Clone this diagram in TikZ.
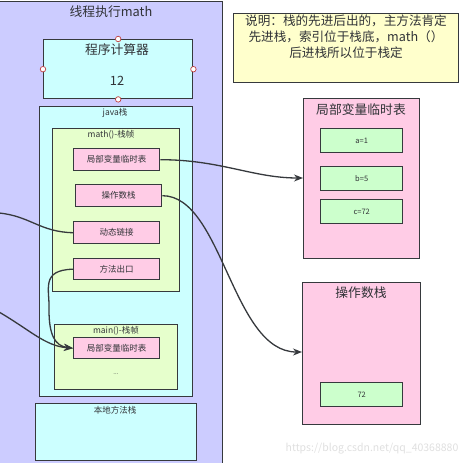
\documentclass[tikz,border=0pt]{standalone}
\usepackage{fontspec}
\setmainfont{Noto Sans CJK SC}
\usetikzlibrary{arrows.meta}
\definecolor{bord}{HTML}{36393D}
\definecolor{purp}{HTML}{CCCCFF}
\definecolor{cyanf}{HTML}{CCFFFF}
\definecolor{frameg}{HTML}{E6FFCC}
\definecolor{pinkf}{HTML}{FFCCE6}
\definecolor{greenf}{HTML}{CCFFCC}
\definecolor{yellowf}{HTML}{FFFFCC}
\tikzset{
  box/.style={draw=bord, line width=1.4pt, inner sep=0pt, anchor=north west},
  lbl/.style={inner sep=0pt, text=bord!90!black},
  small/.style={font=\fontsize{8.5}{10}\selectfont},
  big/.style={font=\fontsize{12.8}{15}\selectfont},
  conn/.style={draw=bord, line width=1.3pt},
  arr/.style={conn, -{Stealth[length=9pt,width=7pt]}},
  pt/.style={circle, draw=red!50!gray, fill=white, line width=0.7pt, inner sep=0pt, minimum size=5.5pt},
}
\newcommand{\rbox}[6]{\node[box, fill=#6, minimum width=#3pt-#1pt, minimum height=#4pt-#2pt] (#5) at (#1,#2) {};}
\begin{document}
\begin{tikzpicture}[x=1pt,y=-1pt]
\useasboundingbox (0,0) rectangle (474,463);
% outer thread box
\rbox{-5}{1}{222}{470}{thread}{purp}
\node[lbl, big] (ttitle) at (111,12) {线程执行math};
% program counter
\rbox{43}{39}{192}{98}{pc}{cyanf}
\node[lbl, big] (pctitle) at (117,50) {程序计算器};
\node[lbl, big] (pcval) at (117,81) {12};
\node[pt] (c1) at (pc.north) {};
\node[pt] (c2) at (pc.south) {};
\node[pt] (c3) at (pc.west) {};
\node[pt] (c4) at (pc.east) {};
% java stack
\rbox{39}{106}{192}{396}{jstack}{cyanf}
\node[lbl, small] (jtitle) at (115,113) {java栈};
% math frame
\rbox{52}{128}{179}{291}{mframe}{frameg}
\node[lbl, small] (mtitle) at (111,135) {math()-栈帧};
\rbox{73}{148}{159}{170}{lv1}{pinkf}
\node[lbl, small] at (lv1.center) {局部变量临时表};
\rbox{75}{184}{161}{206}{ops1}{pinkf}
\node[lbl, small] at (ops1.center) {操作数栈};
\rbox{73}{221}{159}{243}{dyn}{pinkf}
\node[lbl, small] at (dyn.center) {动态链接};
\rbox{73}{258}{159}{279}{ret}{pinkf}
\node[lbl, small] at (ret.center) {方法出口};
% main frame
\rbox{54}{324}{177}{389}{mainframe}{frameg}
\node[lbl, small] (maintitle) at (116,331) {main()-栈帧};
\rbox{73}{337}{159}{358}{lv2}{pinkf}
\node[lbl, small] at (lv2.center) {局部变量临时表};
\node[lbl, font=\fontsize{6}{7}\selectfont] (dots) at (116,374) {...};
% native stack
\rbox{35}{403}{196}{460}{native}{cyanf}
\node[lbl, small] (ntitle) at (115,410) {本地方法栈};
% note
\rbox{233}{13}{458}{82}{note}{yellowf}
\node[lbl, align=center, font=\fontsize{12.6}{16}\selectfont, anchor=north] (notetext) at (346,15) {说明：栈的先进后出的，主方法肯定\\先进栈，索引位于栈底，math（）\\后进栈所以位于栈定};
% local var table right
\rbox{303}{98}{419}{258}{lvt}{pinkf}
\node[lbl, big] (lvttitle) at (361,110) {局部变量临时表};
\rbox{320}{128}{402}{152}{a}{greenf}
\node[lbl, font=\fontsize{7.5}{9}\selectfont] at (a.center) {a=1};
\rbox{320}{166}{402}{190}{b}{greenf}
\node[lbl, font=\fontsize{7.5}{9}\selectfont] at (b.center) {b=5};
\rbox{320}{199}{402}{223}{c}{greenf}
\node[lbl, font=\fontsize{7.5}{9}\selectfont] at (c.center) {c=72};
% operand stack right
\rbox{302}{282}{420}{424}{ost}{pinkf}
\node[lbl, big] (osttitle) at (361,293) {操作数栈};
\rbox{320}{382}{402}{406}{v72}{greenf}
\node[lbl, font=\fontsize{7.5}{9}\selectfont] at (v72.center) {72};
% watermark
\node[lbl, text=gray!25, font=\fontsize{10.5}{12}\selectfont] (wm) at (372,449) {https://blog.csdn.net/qq\_40368880};
% connectors
\coordinate (in1) at (303,178);
\coordinate (in2) at (302,352);
\coordinate (l1) at (-1,213);
\coordinate (l2) at (-1,312);
\draw[arr] (lv1.east) .. controls +(60,0) and +(-50,0) .. (in1);
\draw[arr] (ops1.east) .. controls +(60,0) and +(-70,0) .. (in2);
\draw[conn] (l1) .. controls (30,216) and (40,232) .. (dyn.west);
\draw[arr] (l2) .. controls (30,330) and (45,346) .. (lv2.west);
\draw[arr] (ret.west) .. controls (40,270) and (50,290) .. (49,310) .. controls (49,335) and (55,346) .. (lv2.west);
\end{tikzpicture}
\end{document}
